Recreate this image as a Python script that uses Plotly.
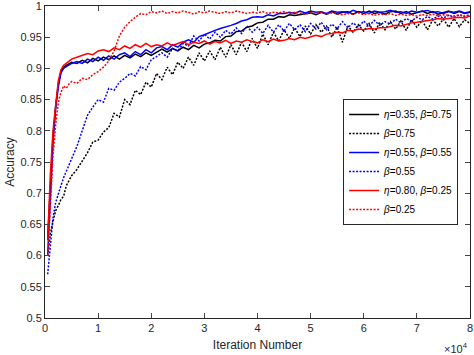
import plotly.graph_objects as go

# Iteration number in units of 1e4
iteration_e4 = [0.05, 0.10, 0.15, 0.20, 0.25, 0.30, 0.35, 0.40, 0.45, 0.50,
                0.6, 0.7, 0.8, 0.9, 1.0, 1.1, 1.2, 1.3, 1.4, 1.5, 1.6, 1.7, 1.8, 1.9, 2.0,
                2.1, 2.2, 2.3, 2.4, 2.5, 2.6, 2.7, 2.8, 2.9, 3.0, 3.1, 3.2, 3.3, 3.4, 3.5,
                3.6, 3.7, 3.8, 3.9, 4.0, 4.1, 4.2, 4.3, 4.4, 4.5, 4.6, 4.7, 4.8, 4.9, 5.0,
                5.1, 5.2, 5.3, 5.4, 5.5, 5.6, 5.7, 5.8, 5.9, 6.0, 6.1, 6.2, 6.3, 6.4, 6.5,
                6.6, 6.7, 6.8, 6.9, 7.0, 7.1, 7.2, 7.3, 7.4, 7.5, 7.6, 7.7, 7.8, 7.9, 8.0]

acc_eta035_beta075 = [0.628, 0.72, 0.79, 0.84, 0.875, 0.895, 0.902, 0.905, 0.907, 0.91,
                      0.908, 0.913, 0.909, 0.916, 0.912, 0.918, 0.914, 0.92, 0.915, 0.921,
                      0.917, 0.923, 0.919, 0.925, 0.921, 0.926, 0.931, 0.926, 0.932, 0.928,
                      0.934, 0.93, 0.937, 0.933, 0.939, 0.941, 0.945, 0.944, 0.951, 0.952,
                      0.959, 0.96, 0.966, 0.968, 0.973, 0.974, 0.979, 0.979, 0.983, 0.982,
                      0.986, 0.985, 0.986, 0.987, 0.989, 0.986, 0.99, 0.987, 0.991, 0.987,
                      0.99, 0.991, 0.987, 0.991, 0.988, 0.992, 0.988, 0.99, 0.987, 0.991,
                      0.992, 0.988, 0.991, 0.987, 0.99, 0.992, 0.988, 0.991, 0.987, 0.99,
                      0.992, 0.988, 0.991, 0.988, 0.99]

acc_beta075 = [0.60, 0.635, 0.655, 0.672, 0.68, 0.69, 0.695, 0.712, 0.72, 0.728,
               0.738, 0.752, 0.765, 0.782, 0.785, 0.798, 0.805, 0.828, 0.822, 0.85,
               0.842, 0.865, 0.858, 0.878, 0.87, 0.892, 0.882, 0.902, 0.89, 0.91,
               0.9, 0.918, 0.905, 0.925, 0.912, 0.928, 0.914, 0.934, 0.918, 0.938,
               0.922, 0.942, 0.927, 0.948, 0.932, 0.955, 0.938, 0.958, 0.944, 0.962,
               0.948, 0.965, 0.951, 0.968, 0.955, 0.97, 0.958, 0.968, 0.95, 0.966,
               0.942, 0.968, 0.958, 0.97, 0.96, 0.972, 0.957, 0.974, 0.962, 0.975,
               0.963, 0.976, 0.961, 0.978, 0.966, 0.977, 0.962, 0.978, 0.968, 0.979,
               0.966, 0.98, 0.967, 0.978, 0.972]

acc_eta055_beta055 = [0.60, 0.70, 0.78, 0.835, 0.87, 0.893, 0.9, 0.903, 0.906, 0.908,
                      0.911, 0.908, 0.915, 0.911, 0.918, 0.913, 0.92, 0.915, 0.922, 0.925,
                      0.919, 0.927, 0.922, 0.93, 0.925, 0.933, 0.935, 0.93, 0.938, 0.934,
                      0.942, 0.946, 0.942, 0.951, 0.954, 0.958, 0.961, 0.964, 0.966, 0.969,
                      0.972, 0.976, 0.978, 0.982, 0.983, 0.982, 0.986, 0.984, 0.988, 0.988,
                      0.99, 0.988, 0.992, 0.989, 0.992, 0.99, 0.991, 0.988, 0.992, 0.99,
                      0.991, 0.989, 0.993, 0.99, 0.991, 0.988, 0.992, 0.99, 0.991, 0.993,
                      0.99, 0.991, 0.988, 0.992, 0.99, 0.991, 0.993, 0.99, 0.991, 0.988,
                      0.991, 0.99, 0.992, 0.989, 0.991]

acc_beta055 = [0.57, 0.62, 0.66, 0.685, 0.70, 0.712, 0.725, 0.735, 0.742, 0.755,
               0.775, 0.8, 0.825, 0.838, 0.85, 0.846, 0.868, 0.865, 0.878, 0.884,
               0.892, 0.888, 0.903, 0.898, 0.914, 0.919, 0.925, 0.918, 0.932, 0.928,
               0.94, 0.936, 0.952, 0.944, 0.955, 0.947, 0.958, 0.95, 0.961, 0.955,
               0.965, 0.956, 0.968, 0.958, 0.966, 0.956, 0.969, 0.958, 0.97, 0.96,
               0.972, 0.962, 0.97, 0.959, 0.972, 0.963, 0.974, 0.962, 0.971, 0.964,
               0.975, 0.965, 0.973, 0.966, 0.976, 0.968, 0.977, 0.969, 0.975, 0.971,
               0.979, 0.973, 0.98, 0.976, 0.982, 0.978, 0.983, 0.979, 0.984, 0.981,
               0.985, 0.982, 0.986, 0.983, 0.987]

acc_eta080_beta025 = [0.625, 0.73, 0.80, 0.845, 0.88, 0.898, 0.905, 0.908, 0.912, 0.915,
                      0.918, 0.921, 0.924, 0.922, 0.928, 0.93, 0.927, 0.933, 0.93, 0.936,
                      0.932, 0.938, 0.934, 0.94, 0.935, 0.938, 0.936, 0.941, 0.937, 0.94,
                      0.943, 0.938, 0.942, 0.94, 0.944, 0.939, 0.943, 0.941, 0.945, 0.94,
                      0.944, 0.942, 0.946, 0.943, 0.941, 0.946, 0.943, 0.947, 0.944, 0.945,
                      0.948, 0.946, 0.95, 0.948, 0.951, 0.953, 0.951, 0.955, 0.956, 0.958,
                      0.957, 0.961, 0.96, 0.963, 0.962, 0.964, 0.963, 0.965, 0.965, 0.967,
                      0.969, 0.968, 0.971, 0.973, 0.974, 0.975, 0.977, 0.978, 0.98, 0.979,
                      0.98, 0.981, 0.982, 0.981, 0.984]

acc_beta025 = [0.60, 0.68, 0.76, 0.81, 0.845, 0.862, 0.872, 0.868, 0.875, 0.879,
               0.876, 0.884, 0.882, 0.89, 0.895, 0.902, 0.912, 0.928, 0.952, 0.966,
               0.975, 0.982, 0.988, 0.986, 0.991, 0.989, 0.992, 0.988, 0.991, 0.989,
               0.992, 0.99, 0.987, 0.991, 0.989, 0.992, 0.99, 0.988, 0.991, 0.989,
               0.992, 0.99, 0.988, 0.99, 0.989, 0.991, 0.988, 0.99, 0.989, 0.991,
               0.988, 0.99, 0.989, 0.987, 0.989, 0.988, 0.99, 0.987, 0.989, 0.988,
               0.986, 0.988, 0.987, 0.989, 0.986, 0.988, 0.985, 0.987, 0.986, 0.988,
               0.985, 0.987, 0.985, 0.986, 0.984, 0.986, 0.985, 0.987, 0.984, 0.986,
               0.985, 0.984, 0.986, 0.984, 0.985]

series_names = ["<i>η</i>=0.35, <i>β</i>=0.75", "<i>β</i>=0.75",
                "<i>η</i>=0.55, <i>β</i>=0.55", "<i>β</i>=0.55",
                "<i>η</i>=0.80, <i>β</i>=0.25", "<i>β</i>=0.25"]
series_values = [acc_eta035_beta075, acc_beta075, acc_eta055_beta055,
                 acc_beta055, acc_eta080_beta025, acc_beta025]
series_colors = ["#000000", "#000000", "#0000ff", "#0000ff", "#ff0000", "#ff0000"]
series_dash = ["solid", "2px,1.5px", "solid", "2px,1.5px", "solid", "2px,1.5px"]

y_ticks = [0.5, 0.55, 0.6, 0.65, 0.7, 0.75, 0.8, 0.85, 0.9, 0.95, 1.0]
y_tick_labels = ["0.5", "0.55", "0.6", "0.65", "0.7", "0.75", "0.8", "0.85", "0.9", "0.95", "1"]
x_ticks = [0, 1, 2, 3, 4, 5, 6, 7, 8]

fig = go.Figure()
for name, vals, col, dash in zip(series_names, series_values, series_colors, series_dash):
    fig.add_trace(go.Scatter(x=iteration_e4, y=vals, mode="lines", name=name,
                             line=dict(color=col, width=1.5, dash=dash)))

axis_col = "#262626"
fig.update_layout(
    width=474, height=355,
    margin=dict(l=45, r=4, t=6, b=37),
    paper_bgcolor="white", plot_bgcolor="white",
    font=dict(family="Liberation Sans, Arial, sans-serif", size=11, color=axis_col),
    showlegend=True,
    legend=dict(x=0.972, xanchor="right", y=0.5, yanchor="middle",
                bgcolor="white", bordercolor=axis_col, borderwidth=1,
                font=dict(size=10, color="#000000"), itemwidth=30,
                tracegroupgap=0),
)
fig.update_xaxes(range=[-0.0005, 8.0005], tickvals=x_ticks, ticks="inside", ticklen=5,
                 showline=True, linecolor=axis_col, linewidth=1, mirror="ticks",
                 showgrid=False, zeroline=False, automargin=False,
                 ticklabeloverflow="allow",
                 title=dict(text="Iteration Number", font=dict(size=12), standoff=7),
                 tickfont=dict(size=11))
fig.update_yaxes(range=[0.49995, 1.00005], tickvals=y_ticks, ticktext=y_tick_labels,
                 ticks="inside", ticklen=5,
                 showline=True, linecolor=axis_col, linewidth=1, mirror="ticks",
                 showgrid=False, zeroline=False, automargin=False,
                 ticklabeloverflow="allow",
                 title=dict(text="Accuracy", font=dict(size=12), standoff=3),
                 tickfont=dict(size=11))
fig.add_annotation(text="×10<sup>4</sup>", xref="paper", yref="paper",
                   x=1.0, y=-0.096, xanchor="right", yanchor="middle",
                   showarrow=False, font=dict(size=11, color=axis_col))
fig.write_html("out.html", config={"displayModeBar": False},
               post_script="document.body.style.margin='0';")
